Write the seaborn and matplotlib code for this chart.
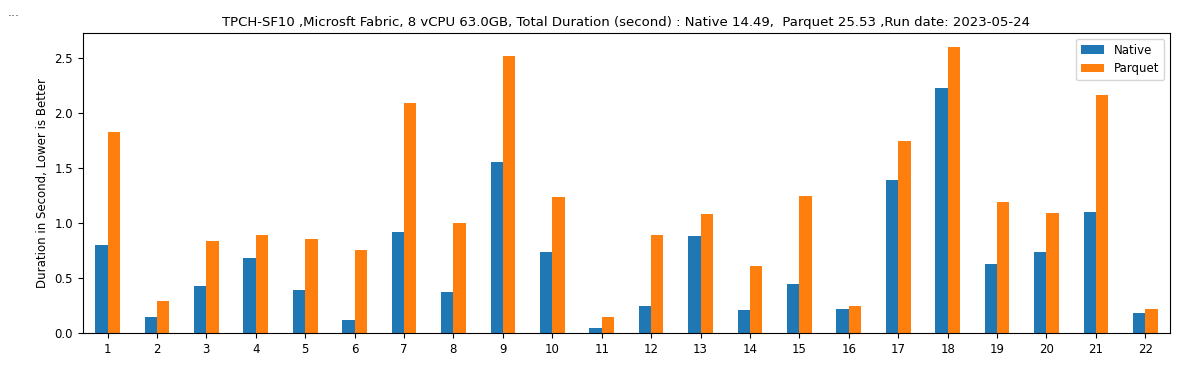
import matplotlib
matplotlib.use("Agg")
import matplotlib.pyplot as plt
import numpy as np
import pandas as pd
import seaborn as sns

# TPCH query numbers and run durations (seconds)
queries = list(range(1, 23))
native = [0.80, 0.15, 0.43, 0.68, 0.39, 0.12, 0.92, 0.37, 1.56, 0.74, 0.05,
          0.25, 0.88, 0.21, 0.45, 0.22, 1.39, 2.23, 0.63, 0.74, 1.10, 0.18]
parquet = [1.83, 0.29, 0.84, 0.89, 0.86, 0.76, 2.09, 1.00, 2.52, 1.24, 0.15,
           0.89, 1.08, 0.61, 1.25, 0.25, 1.75, 2.60, 1.19, 1.09, 2.17, 0.22]

title = ("TPCH-SF10 ,Microsft Fabric, 8 vCPU 63.0GB, Total Duration (second) : "
         "Native 14.49,  Parquet 25.53 ,Run date: 2023-05-24")

df = pd.DataFrame({
    "query": queries * 2,
    "duration": native + parquet,
    "engine": ["Native"] * len(native) + ["Parquet"] * len(parquet),
})

fig = plt.figure(figsize=(12, 3.66), dpi=100)
ax = fig.add_axes([0.069, 0.090, 0.906, 0.820])

sns.barplot(data=df, x="query", y="duration", hue="engine",
            palette=["#1f77b4", "#ff7f0e"], width=0.5, gap=0,
            saturation=1, errorbar=None, ax=ax)

ax.set_xlim(-0.5, len(queries) - 0.5)
ax.set_ylim(0, max(parquet) * 1.05)
ax.set_xlabel("")
ax.set_ylabel("Duration in Second, Lower is Better", fontsize=8.5)
ax.set_title(title, fontsize=9.5, pad=5)
ax.tick_params(labelsize=8.5)
ax.legend(loc="upper right", fontsize=8.5)

fig.text(0.006, 0.955, "...", fontsize=9, color="#444444")

fig.savefig("out.png", dpi=100)
